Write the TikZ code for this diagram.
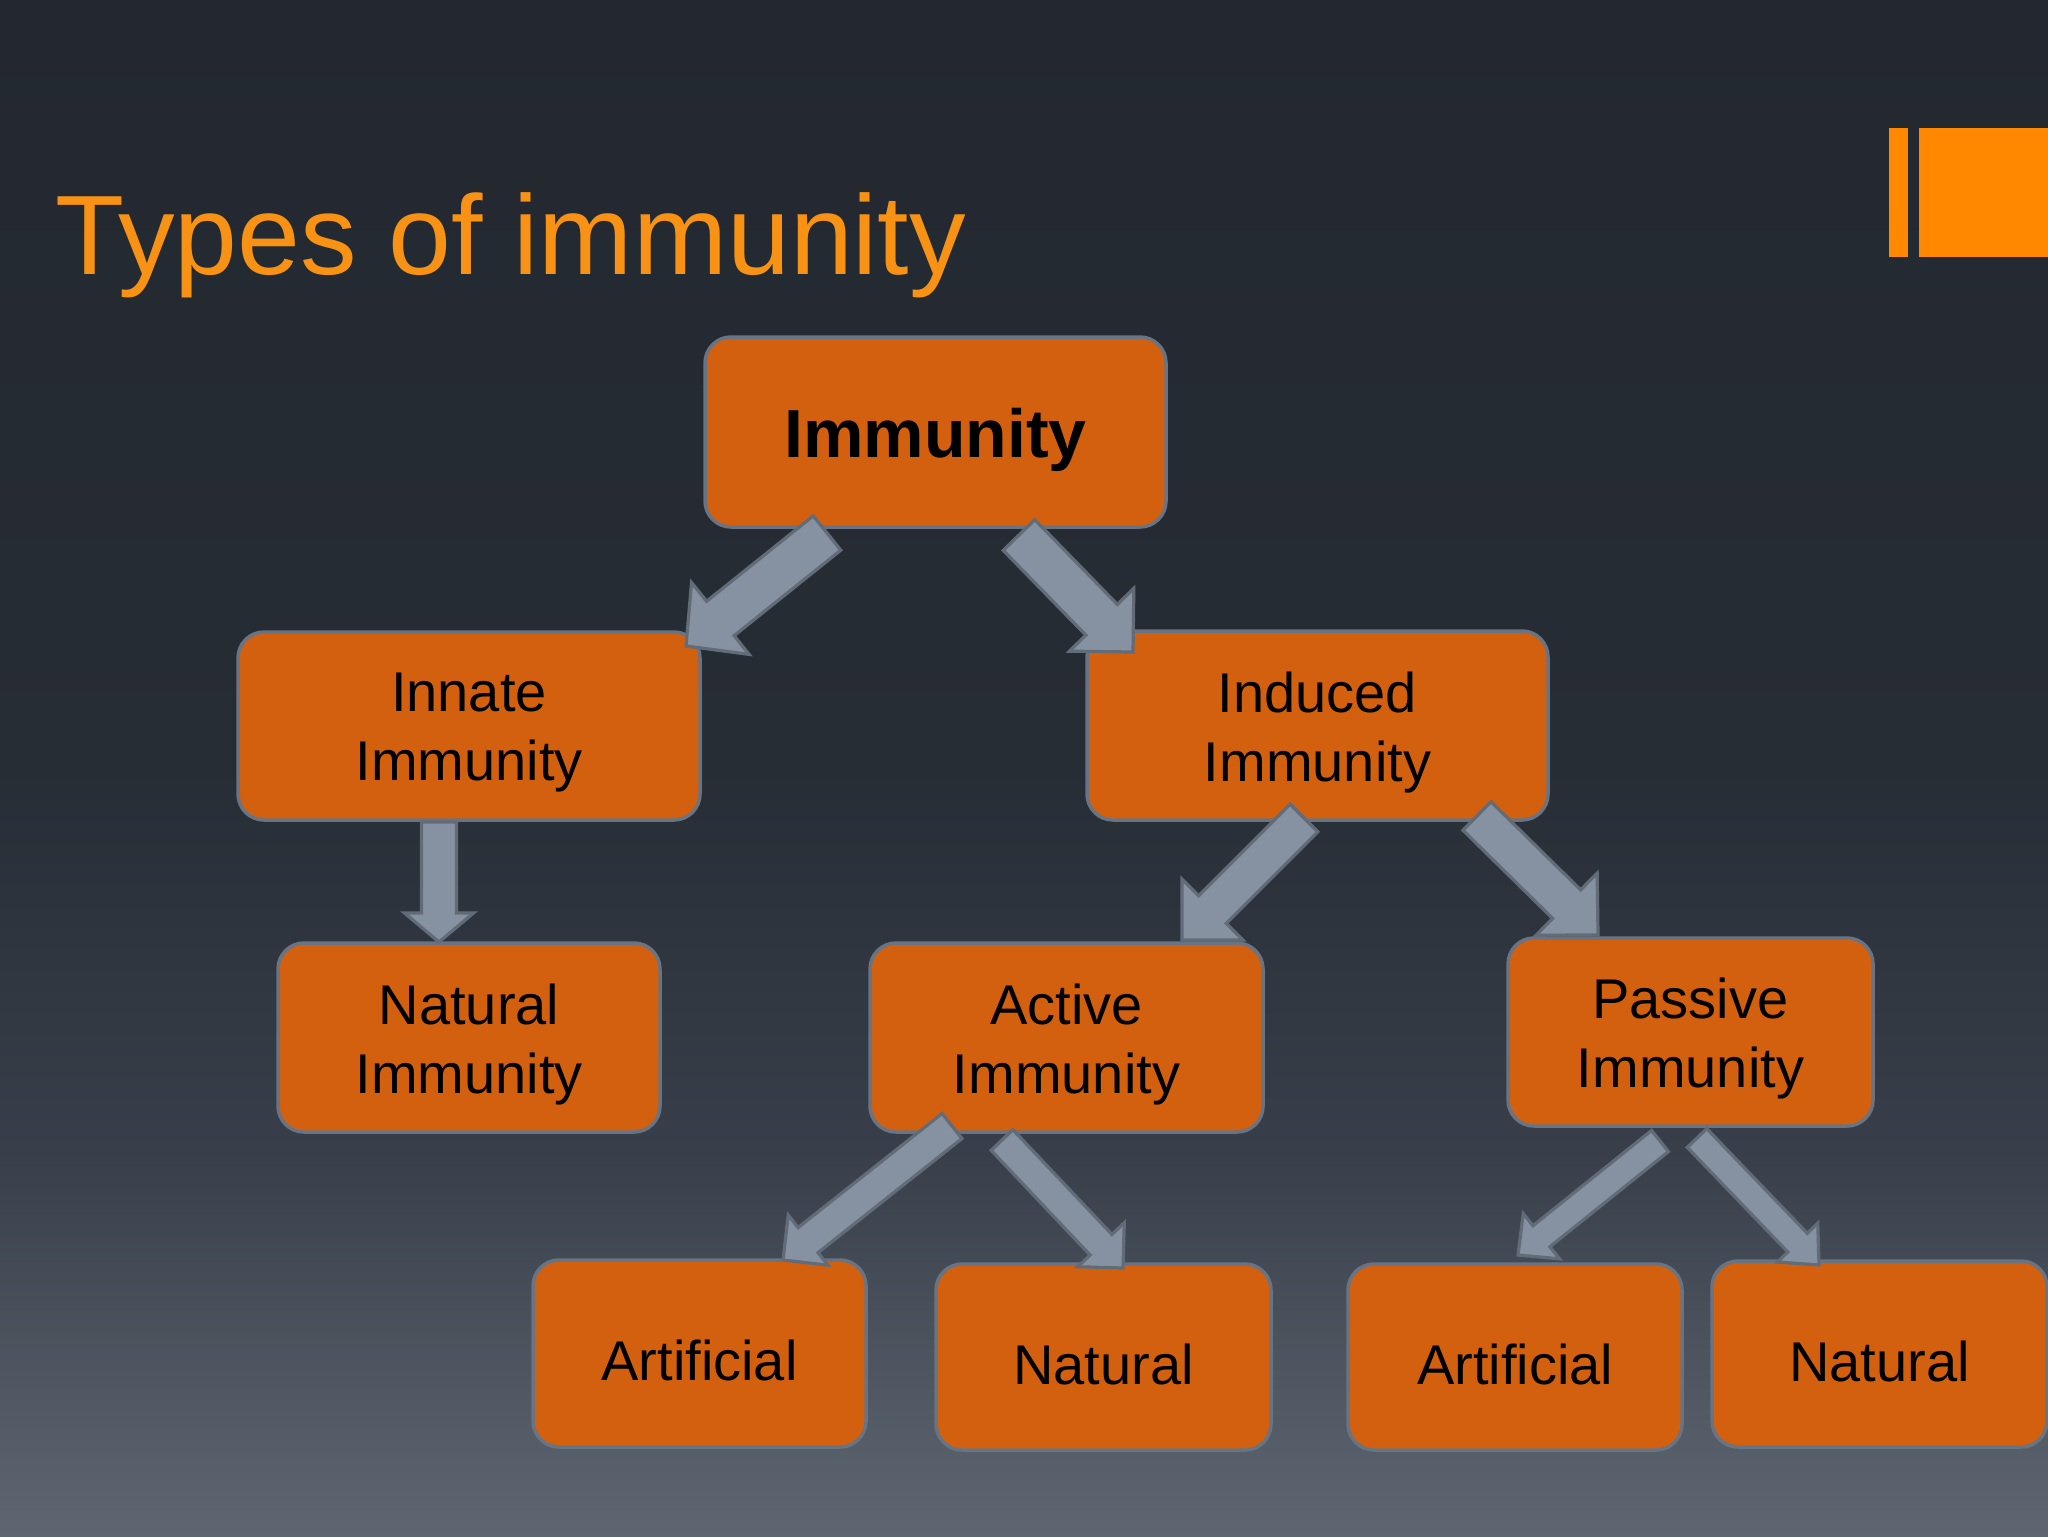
\documentclass[tikz,border=0pt]{standalone}
\usepackage{fontspec}
\setmainfont{Liberation Sans}
\usetikzlibrary{calc}
\definecolor{bgtop}{RGB}{35,40,47}
\definecolor{bgtoptwo}{RGB}{39,45,53}
\definecolor{bgmid}{RGB}{56,63,74}
\definecolor{bgbot}{RGB}{94,103,113}
\definecolor{boxfill}{RGB}{211,96,14}
\definecolor{boxline}{RGB}{104,116,131}
\definecolor{arrfill}{RGB}{134,146,161}
\definecolor{arrline}{RGB}{98,108,121}
\definecolor{titleorange}{RGB}{247,146,20}
\definecolor{decoorange}{RGB}{255,136,0}
\pgfdeclareverticalshading{bgshade}{100bp}{color(0bp)=(bgbot); color(25bp)=(bgbot); color(37.5bp)=(bgmid); color(50bp)=(bgtoptwo); color(75bp)=(bgtop); color(100bp)=(bgtop)}
\tikzset{
  box/.style={draw=boxline, line width=1.75pt, fill=boxfill, rounded corners=13pt,
    inner sep=0pt, outer sep=0pt},
  boxtext/.style={inner sep=0pt, align=center, text=black,
    font=\fontsize{28}{34.5}\selectfont},
  arrowshape/.style={draw=arrline, line width=1.6pt, fill=arrfill, line join=miter}
}
% #1 name, #2 center, #3 width, #4 height, #5 text
\newcommand\boxnode[5]{%
  \node[box, minimum width=#3, minimum height=#4] (#1) at #2 {};
  \node[boxtext] (#1text) at ([yshift=-3.5pt]#1.center) {#5};}
\newcommand\blkarrow[5]{%
  \path ($(#2)!#5!(#1)$) coordinate (hb);
  \draw[arrowshape] ($(#1)!#3!90:(#2)$) -- ($(hb)!#3!90:(#2)$) -- ($(hb)!#4!90:(#2)$) -- (#2)
    -- ($(hb)!#4!-90:(#2)$) -- ($(hb)!#3!-90:(#2)$) -- ($(#1)!#3!-90:(#2)$) -- cycle;}
\begin{document}
\begin{tikzpicture}[x=0.5pt,y=-0.5pt]
\useasboundingbox (0,0) rectangle (2048,1536);
\shade[shading=bgshade] (0,0) rectangle (2048,1536);
% decoration
\fill[decoorange] (1889,128) rectangle (1908,257);
\fill[decoorange] (1919,128) rectangle (2048,257);
% title
\node[anchor=base west, inner sep=0pt, text=titleorange, font=\fontsize{56.5}{60}\selectfont] (title) at (55,274) {Types of immunity};
% boxes
\node[box, minimum width=230.5pt, minimum height=95pt] (imm) at (935.5,432) {};
\node[boxtext, font=\fontsize{34}{40}\selectfont\bfseries] (immtext) at ([yshift=-4pt]imm.center) {Immunity};
\boxnode{innate}{(469,726)}{231pt}{94pt}{Innate\\Immunity}
\boxnode{induced}{(1317.5,725.5)}{230.5pt}{94.5pt}{Induced\\Immunity}
\boxnode{natimm}{(469,1037.5)}{191pt}{94.5pt}{Natural\\Immunity}
\boxnode{active}{(1066.5,1037.5)}{196.5pt}{94.5pt}{Active\\Immunity}
\boxnode{passive}{(1690.5,1032)}{182.5pt}{94pt}{Passive\\Immunity}
\boxnode{artone}{(699.5,1353.5)}{166.5pt}{93.5pt}{Artificial}
\boxnode{natone}{(1103.5,1357)}{167.5pt}{93pt}{Natural}
\boxnode{arttwo}{(1515,1357)}{167pt}{93pt}{Artificial}
\boxnode{nattwo}{(1879.5,1354)}{167.5pt}{93pt}{Natural}
% arrow end points
\coordinate (aS) at (827,533);   \coordinate (aT) at (686,646);
\coordinate (bS) at (1019,535);  \coordinate (bT) at (1133,652);
\coordinate (cS) at (439,822);   \coordinate (cT) at (439,942);
\coordinate (dS) at (1304,818);  \coordinate (dT) at (1182,940);
\coordinate (eS) at (1477,816);  \coordinate (eT) at (1598,935);
\coordinate (fS) at (952,1126);  \coordinate (fT) at (783,1260);
\coordinate (gS) at (1002,1140); \coordinate (gT) at (1123,1268);
\coordinate (hS) at (1660,1141); \coordinate (hT) at (1518,1255);
\coordinate (iS) at (1697,1138); \coordinate (iT) at (1819,1265);
% arrows
\blkarrow{aS}{aT}{11pt}{23pt}{22pt}
\blkarrow{bS}{bT}{11pt}{22.5pt}{22.5pt}
\blkarrow{cS}{cT}{8.75pt}{17.25pt}{14.5pt}
\blkarrow{dS}{dT}{9.75pt}{21.5pt}{21.5pt}
\blkarrow{eS}{eT}{10pt}{21.75pt}{22pt}
\blkarrow{fS}{fT}{8pt}{16pt}{16pt}
\blkarrow{gS}{gT}{7.5pt}{16pt}{16pt}
\blkarrow{hS}{hT}{6.75pt}{14.5pt}{15pt}
\blkarrow{iS}{iT}{6.75pt}{14pt}{15.5pt}
\end{tikzpicture}
\end{document}
